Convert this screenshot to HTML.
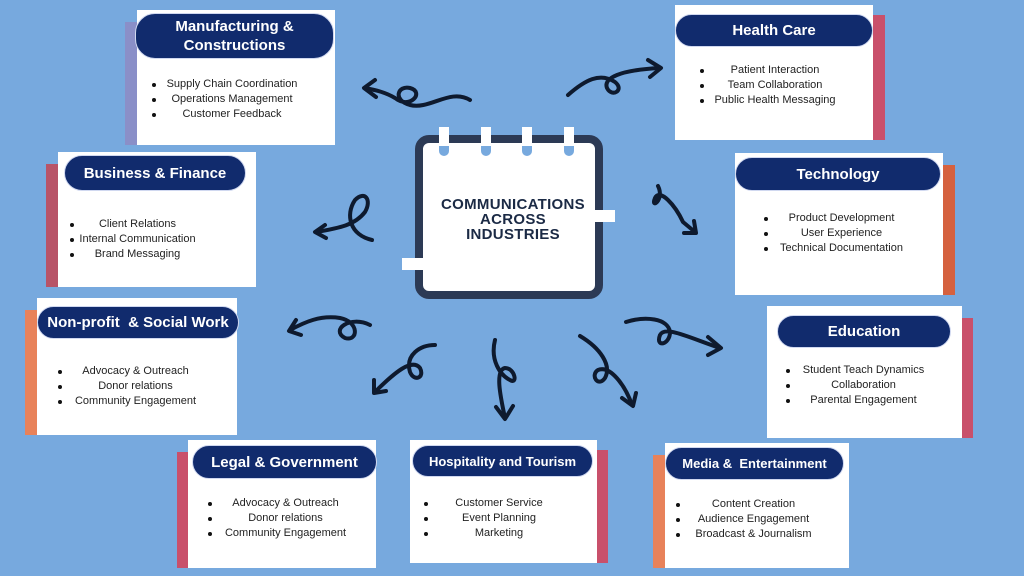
<!DOCTYPE html>
<html><head><meta charset="utf-8"><style>
body{margin:0;width:1024px;height:576px;background:#77a9de;position:relative;overflow:hidden;font-family:"Liberation Sans","DejaVu Sans",sans-serif}
.s{position:absolute}
.card{position:absolute;background:#fff}
.pill{position:absolute;background:#112b6d;color:#fff;border-radius:20px;font-weight:bold;display:flex;align-items:center;justify-content:center;text-align:center;font-size:15px;line-height:19px;border:1px solid #d0d8f0}
.ul{position:absolute;font-size:11px;color:#222;line-height:15px}
.ul div{position:relative;text-align:center}
.ul div:before{content:"";position:absolute;left:0;top:6px;width:4px;height:4px;border-radius:2px;background:#111}
</style></head><body>
<!-- strips -->
<div class="s" style="left:125px;top:22px;width:14px;height:123px;background:#8a8fc8"></div>
<div class="s" style="left:873px;top:15px;width:12px;height:125px;background:#c9506b"></div>
<div class="s" style="left:46px;top:164px;width:14px;height:123px;background:#b85468"></div>
<div class="s" style="left:943px;top:165px;width:12px;height:130px;background:#d5613f"></div>
<div class="s" style="left:25px;top:310px;width:14px;height:125px;background:#e8825a"></div>
<div class="s" style="left:962px;top:318px;width:11px;height:120px;background:#c9506b"></div>
<div class="s" style="left:177px;top:452px;width:13px;height:116px;background:#c9506b"></div>
<div class="s" style="left:597px;top:450px;width:11px;height:113px;background:#c9506b"></div>
<div class="s" style="left:653px;top:455px;width:14px;height:113px;background:#e8825a"></div>

<div class="card" style="left:137px;top:10px;width:198px;height:135px"></div>
<div class="pill" style="left:135px;top:13px;width:197px;height:44px">Manufacturing &amp;<br>Constructions</div>
<div class="ul" style="left:152px;top:77px;width:160px"><div>Supply Chain Coordination</div><div>Operations Management</div><div>Customer Feedback</div></div>

<div class="card" style="left:675px;top:5px;width:198px;height:135px"></div>
<div class="pill" style="left:675px;top:14px;width:196px;height:31px">Health Care</div>
<div class="ul" style="left:700px;top:63px;width:150px"><div>Patient Interaction</div><div>Team Collaboration</div><div>Public Health Messaging</div></div>

<div class="card" style="left:58px;top:152px;width:198px;height:135px"></div>
<div class="pill" style="left:64px;top:155px;width:180px;height:34px">Business &amp; Finance</div>
<div class="ul" style="left:70px;top:217px;width:135px"><div>Client Relations</div><div>Internal Communication</div><div>Brand Messaging</div></div>

<div class="card" style="left:735px;top:153px;width:208px;height:142px"></div>
<div class="pill" style="left:735px;top:157px;width:204px;height:32px">Technology</div>
<div class="ul" style="left:764px;top:211px;width:155px"><div>Product Development</div><div>User Experience</div><div>Technical Documentation</div></div>

<div class="card" style="left:37px;top:298px;width:200px;height:137px"></div>
<div class="pill" style="left:37px;top:306px;width:200px;height:31px">Non-profit &nbsp;&amp; Social Work</div>
<div class="ul" style="left:58px;top:364px;width:155px"><div>Advocacy &amp; Outreach</div><div>Donor relations</div><div>Community Engagement</div></div>

<div class="card" style="left:767px;top:306px;width:195px;height:132px"></div>
<div class="pill" style="left:777px;top:315px;width:172px;height:31px">Education</div>
<div class="ul" style="left:786px;top:363px;width:155px"><div>Student Teach Dynamics</div><div>Collaboration</div><div>Parental Engagement</div></div>

<div class="card" style="left:188px;top:440px;width:188px;height:128px"></div>
<div class="pill" style="left:192px;top:445px;width:183px;height:32px">Legal &amp; Government</div>
<div class="ul" style="left:208px;top:496px;width:155px"><div>Advocacy &amp; Outreach</div><div>Donor relations</div><div>Community Engagement</div></div>

<div class="card" style="left:410px;top:440px;width:187px;height:123px"></div>
<div class="pill" style="left:412px;top:445px;width:179px;height:30px;font-size:13px">Hospitality and Tourism</div>
<div class="ul" style="left:424px;top:496px;width:150px"><div>Customer Service</div><div>Event Planning</div><div>Marketing</div></div>

<div class="card" style="left:665px;top:443px;width:184px;height:125px"></div>
<div class="pill" style="left:665px;top:447px;width:177px;height:31px;font-size:13px">Media &amp; &nbsp;Entertainment</div>
<div class="ul" style="left:676px;top:497px;width:155px"><div>Content Creation</div><div>Audience Engagement</div><div>Broadcast &amp; Journalism</div></div>

<!-- calendar -->
<div class="s" style="left:415px;top:135px;width:172px;height:148px;border:8px solid #2c3a55;border-radius:14px;background:#fff"></div>
<div class="s" style="left:593px;top:210px;width:22px;height:12px;background:#fff"></div>
<div class="s" style="left:402px;top:258px;width:24px;height:12px;background:#fff"></div>
<div class="s" style="left:439px;top:146px;width:10px;height:10px;border-radius:0 0 5px 5px;background:#77a9de"></div>
<div class="s" style="left:481px;top:146px;width:10px;height:10px;border-radius:0 0 5px 5px;background:#77a9de"></div>
<div class="s" style="left:522px;top:146px;width:10px;height:10px;border-radius:0 0 5px 5px;background:#77a9de"></div>
<div class="s" style="left:564px;top:146px;width:10px;height:10px;border-radius:0 0 5px 5px;background:#77a9de"></div>
<div class="s" style="left:439px;top:127px;width:10px;height:19px;background:#fff"></div>
<div class="s" style="left:481px;top:127px;width:10px;height:19px;background:#fff"></div>
<div class="s" style="left:522px;top:127px;width:10px;height:19px;background:#fff"></div>
<div class="s" style="left:564px;top:127px;width:10px;height:19px;background:#fff"></div>
<div class="s" style="left:420px;top:197px;width:186px;text-align:center;font-weight:bold;font-size:15px;line-height:15px;color:#1b2a45;letter-spacing:0.3px">COMMUNICATIONS<br>ACROSS<br>INDUSTRIES</div>

<svg class="s" style="left:0;top:0" width="1024" height="576" fill="none" stroke="#0e1a2e" stroke-width="4" stroke-linecap="round" stroke-linejoin="round">
<path d="M470 100 C450 88 430 110 410 105 C392 100 398 85 410 88 C425 92 410 110 395 98 C385 92 375 90 365 88"/>
<path d="M375 80 L364 88 L376 97"/>
<path d="M568 95 C585 80 600 72 615 82 C625 90 612 98 607 88 C603 78 620 70 660 68"/>
<path d="M648 60 L661 68 L650 77"/>
<path d="M372 240 C350 235 345 215 355 200 C365 190 372 200 365 212 C355 225 340 228 316 232"/>
<path d="M325 225 L315 232 L326 238"/>
<path d="M658 186 C665 200 650 210 655 198 C660 188 675 205 683 222 L695 232"/>
<path d="M684 233 L696 233 L694 221"/>
<path d="M370 325 C350 315 330 330 345 338 C358 342 360 322 340 318 C320 315 305 322 290 330"/>
<path d="M296 320 L289 331 L301 335"/>
<path d="M626 322 C645 316 668 318 670 332 C670 345 655 348 660 335 C665 325 690 338 720 348"/>
<path d="M708 337 L721 348 L708 355"/>
<path d="M435 345 C420 345 405 355 410 372 C414 382 425 378 420 368 C412 358 395 372 375 392"/>
<path d="M374 380 L374 393 L386 391"/>
<path d="M495 340 C490 360 500 375 510 380 C518 385 515 368 505 368 C495 370 500 395 505 418"/>
<path d="M496 407 L505 419 L513 406"/>
<path d="M580 336 C600 348 612 365 605 378 C598 388 590 375 598 370 C610 365 625 385 632 405"/>
<path d="M622 398 L633 406 L636 393"/>
</svg>
</body></html>
